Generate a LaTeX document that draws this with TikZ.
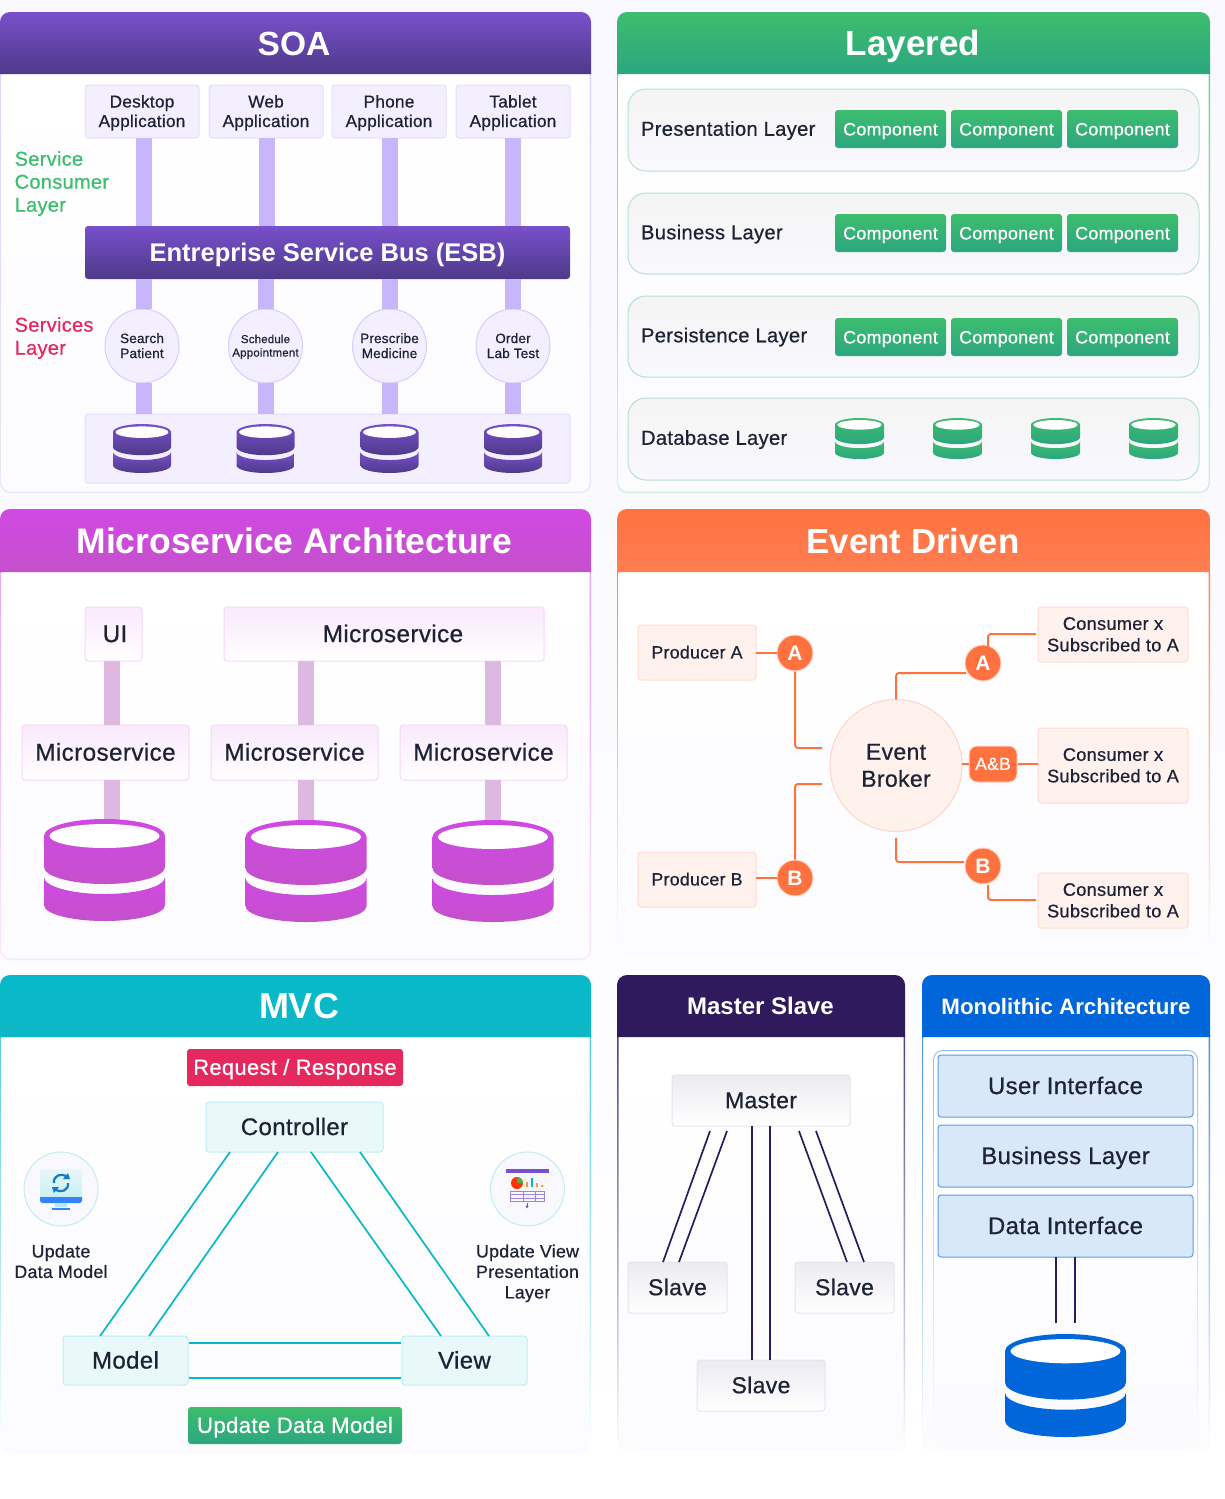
\documentclass[tikz,border=0pt]{standalone}
\usepackage{fontspec}
\setmainfont{Liberation Sans}[UprightFeatures={LetterSpace=1.5,FakeBold=0.6},BoldFeatures={LetterSpace=0}]
\usetikzlibrary{calc}
\definecolor{ink}{HTML}{1E2235}
\definecolor{pagebg}{HTML}{F8F8FE}
\definecolor{soaA}{HTML}{7850CC}\definecolor{soaB}{HTML}{4E3A88}
\definecolor{layA}{HTML}{3DBD6E}\definecolor{layB}{HTML}{2CA67F}
\definecolor{micA}{HTML}{D149E4}\definecolor{micB}{HTML}{C450CB}
\definecolor{evA}{HTML}{FF7240}\definecolor{evB}{HTML}{FF7E52}
\definecolor{mvcA}{HTML}{07B9C8}\definecolor{mvcB}{HTML}{0DB8C6}
\definecolor{msA}{HTML}{2E1A5C}
\definecolor{monoA}{HTML}{0066D9}
\definecolor{soaLine}{HTML}{C7B6FB}
\definecolor{micLine}{HTML}{DDB9E2}
\definecolor{redT}{HTML}{E5295F}
\newcommand\fz[2]{\fontsize{#1}{#2}\selectfont}
% one line of text, boxed from about cap height to baseline so that it centres on its capitals
\newcommand\cl[1]{\smash{#1}\rule{0pt}{.67em}}
\newcommand\tl[1]{\smash{#1}\rule{0pt}{.72em}}
\newcommand\two[2]{\cl{#1}\\\cl{#2}}
\tikzset{
 txt/.style={text=ink,align=center,inner sep=0pt,outer sep=0pt},
 title/.style={text=white,font=\fz{35}{40}\bfseries,inner sep=0pt},
 subtitle/.style={text=white,font=\fz{24}{28}\bfseries,inner sep=0pt},
 soabox/.style={txt,rounded corners=3pt,draw=soaLine!45,line width=1pt,fill=soaLine!22,font=\fz{17.2}{19.5}},
 soacirc/.style={txt,circle,draw=soaLine!70,line width=1pt,fill=soaLine!22,minimum size=74pt,font=\fz{13.5}{15}},
 soaline/.style={soaLine,line width=16pt},
 rowbox/.style={draw=layB!35,line width=1pt,rounded corners=18pt,top color=black!4!white,bottom color=pagebg},
 rowlabel/.style={txt,anchor=west,font=\fz{20.2}{23}},
 compbox/.style={text=white,inner sep=0pt,rounded corners=3pt,top color=layA,bottom color=layB,font=\fz{17.9}{21}},
 micbox/.style={txt,rounded corners=3pt,draw=micA!22,line width=1pt,top color=micA!12,bottom color=white,font=\fz{24.3}{28}},
 micline/.style={micLine,line width=16pt},
 evbox/.style={txt,rounded corners=3pt,draw=evA!25,line width=1pt,fill=evA!9,font=\fz{17.8}{21.5}},
 evcons/.style={evbox,font=\fz{18.2}{21.5}},
 evcirc/.style={circle,fill=evA,text=white,draw=evA!30,line width=1pt,minimum size=36pt,inner sep=0pt,font=\fz{21}{24}\bfseries},
 evline/.style={draw=evA,line width=2pt,rounded corners=3pt},
 mvcbox/.style={txt,rounded corners=3pt,draw=mvcA!25,line width=1pt,fill=mvcA!9,font=\fz{24}{28}},
 mvcline/.style={mvcA,line width=1.7pt},
 msbox/.style={txt,rounded corners=3pt,draw=msA!12,line width=1pt,top color=msA!9,bottom color=white,font=\fz{23}{27}},
 msline/.style={msA,line width=1.7pt},
 monobox/.style={txt,rounded corners=3pt,draw=monoA!65,line width=1pt,fill=monoA!15,font=\fz{24}{27}},
 iconcirc/.style={circle,draw=mvcA!25,line width=1pt,fill=pagebg,minimum size=74pt,inner sep=0pt},
}
% x0 y0 x1 y1 style text name
\newcommand\bx[7]{\node[#5,minimum width={(#3)-(#1)},minimum height={(#4)-(#2)}] (#7) at ({((#1)+(#3))/2},{((#2)+(#4))/2}) {#6};}
% panel: x0 y0 x1 y1 yh topcol botcol bordertop borderbottom
\newcommand\panel[9]{%
 \path[rounded corners=10pt,top color=#8,bottom color=#9] (#1,#5-12) rectangle (#3,#4);
 \path[top color=white,bottom color=pagebg!50] (#1+1.5,#5) [rounded corners=9pt] -- (#1+1.5,#4-1.5) -- (#3-1.5,#4-1.5) [sharp corners] -- (#3-1.5,#5) -- cycle;
 \path[top color=#6,bottom color=#7] (#1,#5) [rounded corners=10pt] -- (#1,#2) -- (#3,#2) [sharp corners] -- (#3,#5) -- cycle;
}
% database: cx top w h colA colB
\newcommand\dbicon[6]{%
 \begin{scope}[shift={(#1,#2)},xscale=#3/121,yscale=#4/102]
 \path[top color=#5,bottom color=#6] (-60.5,17) .. controls (-60.5,7.6) and (-33.4,0) .. (0,0) .. controls (33.4,0) and (60.5,7.6) .. (60.5,17) -- (60.5,48) .. controls (60.5,57.4) and (33.4,65) .. (0,65) .. controls (-33.4,65) and (-60.5,57.4) .. (-60.5,48) -- cycle;
 \fill[white] (0,17) circle[x radius=55pt,y radius=12pt];
 \path[top color=#5,bottom color=#6] (-60.5,58) .. controls (-60.5,67.4) and (-33.4,75) .. (0,75) .. controls (33.4,75) and (60.5,67.4) .. (60.5,58) -- (60.5,86) .. controls (60.5,95) and (33.4,102) .. (0,102) .. controls (-33.4,102) and (-60.5,95) .. (-60.5,86) -- cycle;
 \end{scope}}
\begin{document}
\begin{tikzpicture}[x=1pt,y=-1pt]
\useasboundingbox (0,0) rectangle (1225,1499);
\path[top color=pagebg,bottom color=white] (0,0) rectangle (1225,1499);
% ---------- panels
\panel{0}{12}{591}{493}{74}{soaA}{soaB}{soaLine!60}{soaLine!35}
\panel{617}{12}{1210}{493}{74}{layA}{layB}{layA!70}{layA!22}
\panel{0}{509}{591}{960}{572}{micA}{micB}{micA!50}{micA!12}
\panel{617}{509}{1210}{960}{572}{evA}{evB}{evA!90}{white}
\panel{0}{975}{591}{1455}{1037}{mvcA}{mvcB}{mvcA!70}{white}
\panel{617}{975}{905}{1452}{1037}{msA}{msA}{msA!85}{white}
\panel{922}{975}{1210}{1452}{1037}{monoA}{monoA}{monoA!75}{white}
\node[title,font=\fz{33.5}{40}\bfseries] (tSOA) at (294,43) {\tl{SOA}};
\node[title] (tLay) at (913,43) {\tl{Layered}};
\node[title,font=\fz{35.5}{40}\bfseries] (tMic) at (294.5,541) {\tl{Microservice Architecture}};
\node[title,font=\fz{34.8}{40}\bfseries] (tEv) at (913,541) {\tl{Event Driven}};
\node[title,font=\fz{36}{40}\bfseries] (tMVC) at (299,1006) {\tl{MVC}};
\node[subtitle] (tMS) at (760.5,1006) {\tl{Master Slave}};
\node[subtitle,font=\fz{22.3}{27}\bfseries] (tMono) at (1066,1006) {\tl{Monolithic Architecture}};
% ---------- SOA
\bx{85}{85}{199}{138}{soabox}{\two{Desktop}{Application}}{a1}
\bx{209}{85}{323}{138}{soabox}{\two{Web}{Application}}{a2}
\bx{332}{85}{446}{138}{soabox}{\two{Phone}{Application}}{a3}
\bx{456}{85}{570}{138}{soabox}{\two{Tablet}{Application}}{a4}
\bx{85}{414}{570}{483}{soabox}{}{dbs}
\node[soacirc] (s1) at (142,346) {\two{Search}{Patient}};
\node[soacirc,font=\fz{11.5}{13.5}] (s2) at (265.5,346) {\two{Schedule}{Appointment}};
\node[soacirc] (s3) at (389.5,346) {\two{Prescribe}{Medicine}};
\node[soacirc] (s4) at (513,346) {\two{Order}{Lab Test}};
\bx{85}{226}{570}{279}{rounded corners=3pt,top color=soaA,bottom color=soaB,text=white,inner sep=0pt,font=\fz{25.5}{30}\bfseries}{\tl{Entreprise Service Bus (ESB)}}{esb}
\foreach \n/\s/\d in {a1/s1/2,a2/s2/0.5,a3/s3/0.5,a4/s4/0}{
 \draw[soaline] ([xshift=\d pt]\n.south) -- ([xshift=\d pt]\n.south |- esb.north);
 \draw[soaline] ([xshift=\d pt]\s.north |- esb.south) -- ([xshift=\d pt]\s.north);
 \draw[soaline] ([xshift=\d pt]\s.south) -- ([xshift=\d pt]\s.south |- dbs.north);
}
\node[anchor=north west,align=left,inner sep=0pt,text=layA,font=\fz{20}{23}] (lc) at (14.5,151) {Service\\Consumer\\Layer};
\node[anchor=north west,align=left,inner sep=0pt,text=redT,font=\fz{20}{23}] (ls) at (14.5,317) {Services\\Layer};
\foreach \c in {142,265.5,389.5,513}{\dbicon{\c}{424}{58}{49}{soaA}{soaB}}
% ---------- Layered
\foreach \i/\a/\b/\t in {1/89/171/Presentation Layer,2/193/274/Business Layer,3/296/377/Persistence Layer,4/398/480/Database Layer}{
 \bx{628}{\a}{1199}{\b}{rowbox}{}{row\i}
 \node[rowlabel] (lab\i) at (641,{(\a+\b)/2-1.5}) {\tl{\t}};
}
\foreach \r/\a in {1/110,2/214,3/318}{
 \bx{835}{\a}{946}{\a+38}{compbox}{\tl{Component}}{c\r a}
 \bx{951}{\a}{1062}{\a+38}{compbox}{\tl{Component}}{c\r b}
 \bx{1067}{\a}{1178}{\a+38}{compbox}{\tl{Component}}{c\r c}
}
\foreach \c in {859.5,957.5,1055.5,1153.5}{\dbicon{\c}{418}{49}{41}{layA}{layB}}
% ---------- Microservice
\bx{85}{607}{142}{661}{micbox}{\hspace*{3pt}\cl{UI}}{ui}
\bx{224}{607}{544}{661}{micbox}{\hspace*{18pt}\cl{Microservice}}{mt}
\bx{22}{725}{189}{780}{micbox}{\cl{Microservice}}{m1}
\bx{211}{725}{378}{780}{micbox}{\cl{Microservice}}{m2}
\bx{400}{725}{567}{780}{micbox}{\cl{Microservice}}{m3}
\coordinate (d1) at (111.5,822);
\coordinate (d2) at (306,822);
\coordinate (d3) at (493,822);
\draw[micline] ([xshift=-2pt]ui.south) -- ([xshift=-2pt]ui.south |- m1.north);
\draw[micline] ([xshift=11.5pt]m2.north) -- ([xshift=11.5pt]m2.north |- mt.south);
\draw[micline] ([xshift=9.5pt]m3.north) -- ([xshift=9.5pt]m3.north |- mt.south);
\draw[micline] ([xshift=6pt]m1.south) -- (d1);
\draw[micline] ([xshift=11.5pt]m2.south) -- (d2);
\draw[micline] ([xshift=9.5pt]m3.south) -- (d3);
\dbicon{104.5}{819}{121}{102}{micA}{micB}
\dbicon{306}{820}{121}{102}{micA}{micB}
\dbicon{493}{820}{121}{102}{micA}{micB}
% ---------- Event driven
\bx{638}{625}{756}{680}{evbox}{\cl{Producer A}}{pa}
\bx{638}{852}{756}{907}{evbox}{\cl{Producer B}}{pb}
\bx{1038}{607}{1188}{662}{evcons}{\two{Consumer x}{Subscribed to A}}{k1}
\bx{1038}{728}{1188}{803}{evcons}{\two{Consumer x}{Subscribed to A}}{k2}
\bx{1038}{873}{1188}{928}{evcons}{\two{Consumer x}{Subscribed to A}}{k3}
\node[txt,circle,draw=evA!30,line width=1pt,fill=evA!10,minimum size=132pt,font=\fz{23}{27}] (broker) at (896,765.5) {\two{Event}{Broker}};
\node[evcirc] (ca) at (795,653) {A};
\node[evcirc] (cb) at (795,878) {B};
\node[evcirc] (ra) at (983,663) {A};
\node[evcirc] (rb) at (983,866) {B};
\bx{969}{746}{1017}{782}{rounded corners=8pt,fill=evA,text=white,draw=evA!30,line width=1pt,inner sep=0pt,font=\fz{17.5}{20}}{\cl{A\&B}}{ab}
\coordinate (bL1) at (822,748);
\coordinate (bL2) at (822,784);
\coordinate (rA1) at (966,673);
\coordinate (rA2) at (988,646);
\coordinate (bB0) at (896,838);
\coordinate (rB1) at (964,862);
\coordinate (rB2) at (988,885);
\draw[evline] (ca.west -| pa.east) -- (ca.west);
\draw[evline] (cb.west -| pb.east) -- (cb.west);
\draw[evline] (ca.south) |- (bL1);
\draw[evline] (cb.north) |- (bL2);
\draw[evline] (broker.north) |- (rA1);
\draw[evline] (rA2) |- ([xshift=-2pt,yshift=0.5pt]k1.west);
\draw[evline] (ab.east) -- (ab.east -| k2.west);
\draw[evline] (ab.west -| broker.east) -- (ab.west);
\draw[evline] (bB0) |- (rB1);
\draw[evline] (rB2) |- ([xshift=-2pt,yshift=0.5pt]k3.west);
% ---------- MVC
\bx{187}{1049}{403}{1086}{rounded corners=3pt,fill=redT,text=white,inner sep=0pt,font=\fz{21.9}{25}}{\cl{Request / Response}}{req}
\bx{206}{1102}{383}{1152}{mvcbox}{\cl{Controller}}{ctrl}
\bx{63}{1336}{188}{1385}{mvcbox}{\cl{Model}}{model}
\bx{402}{1336}{527}{1385}{mvcbox}{\cl{View}}{view}
\bx{188}{1407}{402}{1444}{rounded corners=3pt,top color=layA,bottom color=layB,text=white,inner sep=0pt,font=\fz{22.2}{25}}{\cl{Update Data Model}}{upd}
\draw[mvcline] ([xshift=-64.5pt]ctrl.south) -- ([xshift=-25.5pt]model.north);
\draw[mvcline] ([xshift=-16.5pt]ctrl.south) -- ([xshift=23.5pt]model.north);
\draw[mvcline] ([xshift=16.5pt]ctrl.south) -- ([xshift=-23.5pt]view.north);
\draw[mvcline] ([xshift=65.5pt]ctrl.south) -- ([xshift=24.5pt]view.north);
\draw[mvcline] ([shift={(1,-17.5)}]model.east) -- ([shift={(-1,-17.5)}]view.west);
\draw[mvcline] ([shift={(1,17.5)}]model.east) -- ([shift={(-1,17.5)}]view.west);
\node[iconcirc] (ic1) at (61,1189) {};
\node[iconcirc] (ic2) at (527.5,1189) {};
\node[txt,font=\fz{17.8}{20.5},anchor=north] (t1) at (61,1245.5) {\two{Update}{Data Model}};
\node[txt,font=\fz{17.8}{20.5},anchor=north] (t2) at (527.5,1245.5) {\cl{Update View}\\\cl{Presentation}\\\cl{Layer}};
% left icon: monitor
\path[top color=mvcA!10,bottom color=mvcA!22] (40,1169) rectangle (82,1198);
\fill[blue!60!cyan!80!white] (40,1197) -- (82,1197) -- (82,1201) -- (80,1203) -- (42,1203) -- (40,1201) -- cycle;
\fill[mvcA!30] (55,1203) rectangle (67,1207);
\fill[blue!60!cyan!80!white] (52,1207.5) rectangle (70,1209.5);
\draw[cyan!60!blue,line width=2.2pt] (54,1183) .. controls (53,1176) and (61,1172) .. (67,1177);
\fill[cyan!60!blue] (70,1179) -- (63,1179) -- (68,1173) -- cycle;
\draw[cyan!60!blue,line width=2.2pt] (68,1183) .. controls (69,1190) and (61,1194) .. (55,1189);
\fill[cyan!60!blue] (52,1187) -- (59,1187) -- (54,1193) -- cycle;
% right icon: chart board
\fill[black!3] (507,1169) rectangle (548,1200);
\fill[soaA] (506,1169) rectangle (549,1173);
\fill[red!60!orange] (517,1183) circle[radius=6pt];
\fill[green!55!black!70] (517,1183) -- (523,1183) .. controls (523,1180) and (520,1177) .. (517,1177) -- cycle;
\fill[orange!80] (526,1187) rectangle (528,1182);
\fill[mvcA] (531,1187) rectangle (533,1178);
\fill[orange!80] (536,1187) rectangle (538,1183);
\fill[orange!80] (541,1187) rectangle (543,1185);
\draw[soaA!70,line width=0.8pt] (510,1191) rectangle (544,1201) (510,1194.5) -- (544,1194.5) (510,1198) -- (544,1198) (523,1191) -- (523,1201) (535,1191) -- (535,1201);
\fill[soaA] (527,1206.5) circle[radius=1.5pt];
\draw[soaA,line width=0.8pt] (527,1203) -- (527,1206);
% ---------- Master slave
\bx{672}{1075}{850}{1126}{msbox}{\cl{Master}}{ms}
\bx{628}{1262}{727}{1313}{msbox}{\cl{Slave}}{sl}
\bx{795}{1262}{894}{1313}{msbox}{\cl{Slave}}{sr}
\bx{697}{1360}{825}{1411}{msbox}{\cl{Slave}}{sb}
\draw[msline] ([shift={(-51,5)}]ms.south) -- ([xshift=-14.5pt]sl.north);
\draw[msline] ([shift={(-34,5)}]ms.south) -- ([xshift=1.5pt]sl.north);
\draw[msline] ([xshift=-9pt]ms.south) -- ([xshift=-9pt]sb.north);
\draw[msline] ([xshift=9pt]ms.south) -- ([xshift=9pt]sb.north);
\draw[msline] ([shift={(38,5)}]ms.south) -- ([xshift=2.5pt]sr.north);
\draw[msline] ([shift={(55,5)}]ms.south) -- ([xshift=19.5pt]sr.north);
% ---------- Monolithic
\path[rounded corners=10pt,top color=monoA!45,bottom color=white] (933,1050) rectangle (1198,1450);
\path[rounded corners=9pt,top color=white,bottom color=pagebg!60] (934,1051) rectangle (1197,1449);
\bx{938}{1055}{1193}{1117}{monobox}{\cl{User Interface}}{mu}
\bx{938}{1125}{1193}{1187}{monobox}{\cl{Business Layer}}{mb}
\bx{938}{1195}{1193}{1257}{monobox}{\cl{Data Interface}}{md}
\coordinate (mdb) at (1065.5,1323);
\draw[msline] ([xshift=-9.5pt]md.south) -- ([xshift=-9.5pt]md.south |- mdb);
\draw[msline] ([xshift=9.5pt]md.south) -- ([xshift=9.5pt]md.south |- mdb);
\dbicon{1065.5}{1334}{121}{103}{monoA}{monoA}
\end{tikzpicture}
\end{document}
